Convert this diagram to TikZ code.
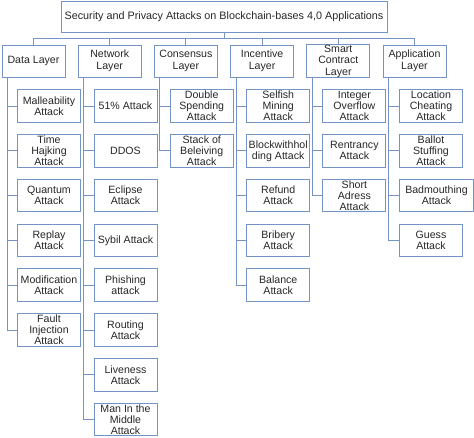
\documentclass[tikz,border=0pt]{standalone}
\usepackage{fontspec}
\setmainfont{Liberation Sans}

\definecolor{boxline}{RGB}{115,148,196}

\tikzset{
  attackbox/.style={draw=boxline, line width=1pt, align=center, minimum width=63pt,
    minimum height=32.5pt, inner xsep=2pt, inner ysep=0pt, text=black!85,
    font=\fontsize{10.6}{11}\selectfont},
  layerbox/.style={attackbox, minimum height=32pt, font=\fontsize{10.6}{11.5}\selectfont},
  link/.style={draw=boxline, line width=1pt},
}

\begin{document}
\begin{tikzpicture}[x=1pt,y=-1pt]
  \useasboundingbox (0,0) rectangle (474,437);

  \node[attackbox, minimum width=326pt, minimum height=31pt, font=\fontsize{10.8}{12}\selectfont]
    (title) at (224,16.5) {Security and Privacy Attacks on Blockchain-bases 4,0 Applications};
  \coordinate (bus) at (224,38);
  \draw[link] (title) -- (bus);

  % layers
  \foreach \nm/\lbl [count=\i] in {data/Data Layer, net/Network\\Layer, cons/Consensus\\Layer,
      inc/Incentive\\Layer, sc/Smart\\Contract\\Layer, app/Application\\Layer} {
    \node[layerbox] (\nm) at ({33.5+76.2*(\i-1)},61) {\lbl};
    \coordinate (\nm-top) at ([xshift=6pt]\nm.south west);
    \draw[link] (bus) -| (\nm.north);
  }

  % attacks per layer
  \foreach \lbl [count=\i] in {Malleability\\Attack, Time\\Hajking\\Attack, Quantum\\Attack,
      Replay\\Attack, Modification\\Attack, Fault\\Injection\\Attack} {
    \node[attackbox, anchor=west] (data-\i) at (17,{106+44.8*(\i-1)}) {\lbl};
    \draw[link] (data-top) |- (data-\i.west);
  }

  \foreach \lbl [count=\i] in {51\% Attack, DDOS, Eclipse\\Attack, Sybil Attack, Phishing\\attack,
      Routing\\Attack, Liveness\\Attack, Man In the\\Middle\\Attack} {
    \node[attackbox, anchor=west] (net-\i) at (93.5,{106+44.8*(\i-1)}) {\lbl};
    \draw[link] (net-top) |- (net-\i.west);
  }

  \foreach \lbl [count=\i] in {Double\\Spending\\Attack, Stack of\\Beleiving\\Attack} {
    \node[attackbox, anchor=west] (cons-\i) at (169.7,{106+44.8*(\i-1)}) {\lbl};
    \draw[link] (cons-top) |- (cons-\i.west);
  }

  \foreach \lbl [count=\i] in {Selfish\\Mining\\Attack, Blockwithhol\\ding Attack, Refund\\Attack,
      Bribery\\Attack, Balance\\Attack} {
    \node[attackbox, anchor=west] (inc-\i) at (246.2,{106+44.8*(\i-1)}) {\lbl};
    \draw[link] (inc-top) |- (inc-\i.west);
  }

  \foreach \lbl [count=\i] in {Integer\\Overflow\\Attack, Rentrancy\\Attack, Short\\Adress\\Attack} {
    \node[attackbox, anchor=west] (sc-\i) at (322.4,{106+44.8*(\i-1)}) {\lbl};
    \draw[link] (sc-top) |- (sc-\i.west);
  }

  \foreach \lbl/\w [count=\i] in {Location\\Cheating\\Attack/63, Ballot\\Stuffing\\Attack/63,
      Badmouthing\\Attack/74, Guess\\Attack/63} {
    \node[attackbox, anchor=west, minimum width=\w pt] (app-\i) at (399,{106+44.8*(\i-1)}) {\lbl};
    \draw[link] (app-top) |- (app-\i.west);
  }

\end{tikzpicture}
\end{document}
